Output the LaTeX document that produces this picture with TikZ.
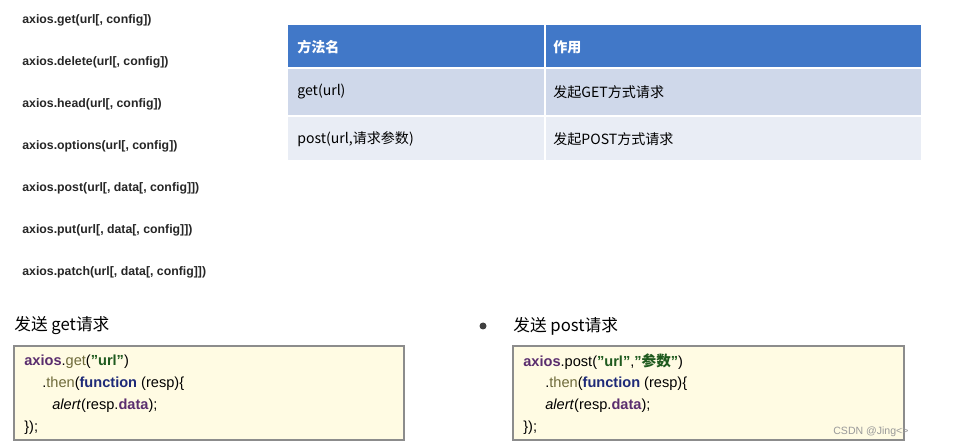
\documentclass[tikz,border=0pt]{standalone}
\usepackage{fontspec}
\setmainfont{Liberation Sans}
\newfontfamily\cjk{Noto Sans CJK SC}
\usetikzlibrary{positioning}
\definecolor{hdblue}{HTML}{4178C8}
\definecolor{rowa}{HTML}{CFD8EA}
\definecolor{rowb}{HTML}{E9EDF5}
\definecolor{codebg}{HTML}{FFFBE3}
\definecolor{kwpurple}{HTML}{5A2D6E}
\definecolor{fnolive}{HTML}{6E6A3A}
\definecolor{strgreen}{HTML}{1E5A1E}
\definecolor{kwnavy}{HTML}{1E2A78}
\newcommand{\ax}{\textcolor{kwpurple}{\textbf{axios}}}
\newcommand{\str}[1]{\textcolor{strgreen}{\textbf{#1}}}
\begin{document}
\begin{tikzpicture}[x=0.02cm, y=-0.02cm,
    api/.style={anchor=west, inner sep=0pt, font=\fontsize{7}{8}\selectfont\bfseries, text=black!85},
    cell/.style={anchor=west, inner sep=0pt, font=\fontsize{8}{9}\selectfont\cjk},
    hd/.style={cell, text=white, font=\fontsize{8}{9}\selectfont\cjk\bfseries},
    title/.style={anchor=west, inner sep=0pt, font=\fontsize{9.5}{11}\selectfont\cjk},
    codebox/.style={draw=black!45, fill=codebg, line width=0.6pt},
    code/.style={anchor=west, inner sep=0pt, font=\fontsize{8.3}{10}\selectfont}]
    \useasboundingbox (0,0) rectangle (955,448);
    % api list
    \foreach \t [count=\i] in {axios.get(url[{,} config]), axios.delete(url[{,} config]),
        axios.head(url[{,} config]), axios.options(url[{,} config]),
        axios.post(url[{,} data[{,} config]]), axios.put(url[{,} data[{,} config]]),
        axios.patch(url[{,} data[{,} config]])}
        \node[api] (api\i) at (22, -22+42*\i) {\t};

    % table
    \fill[hdblue] (288,25) rectangle (921,68);
    \fill[rowa] (288,68) rectangle (921,116);
    \fill[rowb] (288,116) rectangle (921,160);
    \draw[white, line width=1pt] (545,25) -- (545,160) (288,68) -- (921,68) (288,116) -- (921,116);
    \node[hd] (h1) at (297,47) {方法名};
    \node[hd] (h2) at (553,47) {作用};
    \node[cell] (c11) at (297,92) {get(url)};
    \node[cell] (c12) at (553,92) {发起GET方式请求};
    \node[cell] (c21) at (297,139) {post(url,请求参数)};
    \node[cell] (c22) at (553,139) {发起POST方式请求};

    % get
    \node[title] (tget) at (14,326) {发送 get请求};
    \draw[codebox] (14,346) rectangle (404,440);
    \node[code] (g1) at (24,362) {\ax.\textcolor{fnolive}{get}(\str{"url"})};
    \node[code] (g2) at (42,384) {.\textcolor{fnolive}{then}(\textcolor{kwnavy}{\textbf{function}} (resp)\{};
    \node[code] (g3) at (52,406) {\textit{alert}(resp.\textcolor{kwpurple}{\textbf{data}});};
    \node[code] (g4) at (24,428) {\});};

    % post
    \fill[black!75] (483,326) circle (3.5);
    \node[title] (tpost) at (513,326) {发送 post请求};
    \draw[codebox] (513,346) rectangle (904,440);
    \node[code] (p1) at (523,362) {\ax.post(\str{"url"},\str{"{\cjk 参数}"})};
    \node[code] (p2) at (545,384) {.\textcolor{fnolive}{then}(\textcolor{kwnavy}{\textbf{function}} (resp)\{};
    \node[code] (p3) at (545,406) {\textit{alert}(resp.\textcolor{kwpurple}{\textbf{data}});};
    \node[code] (p4) at (523,428) {\});};

    \node[anchor=west, inner sep=0pt, text=black!40, font=\fontsize{6}{7}\selectfont] (mark) at (833,432) {CSDN @Jing<>};
\end{tikzpicture}
\end{document}
